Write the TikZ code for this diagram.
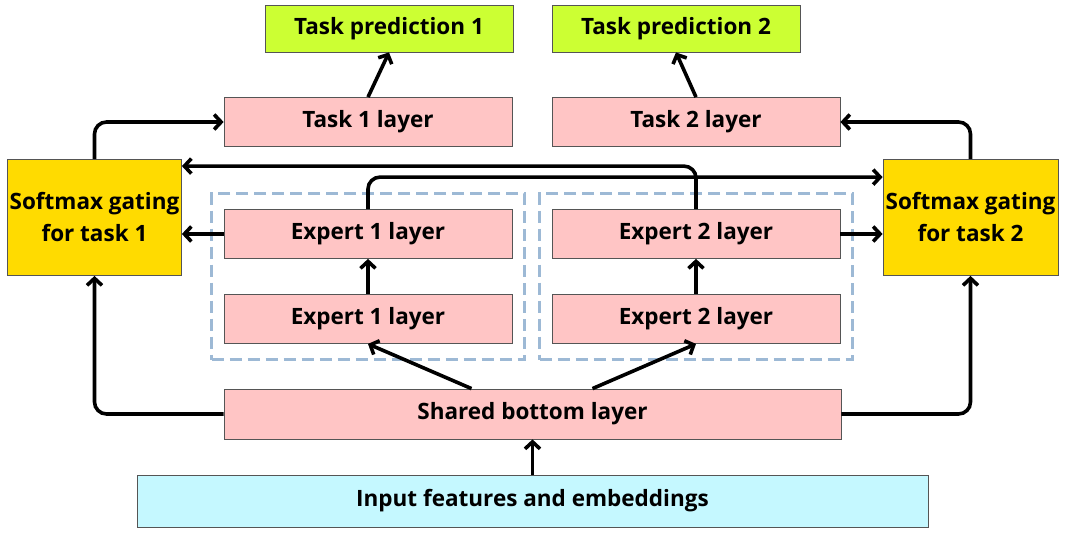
\documentclass[tikz,border=0pt]{standalone}
\usepackage{fontspec}
\setmainfont{Open Sans}
\usetikzlibrary{arrows.meta,positioning,fit}

\definecolor{layerpink}{HTML}{FFC5C5}
\definecolor{predgreen}{HTML}{CCFF33}
\definecolor{gateyellow}{HTML}{FFDB00}
\definecolor{inputcyan}{HTML}{C5F8FF}
\definecolor{groupblue}{HTML}{9DB9D5}
\definecolor{edgegray}{HTML}{555555}

\begin{document}
\begin{tikzpicture}[
  x=1pt, y=-1pt,
  every node/.style={font=\fontsize{22.5}{32}\selectfont\bfseries},
  box/.style={rectangle, draw=edgegray, line width=0.8pt, align=center, inner sep=0pt},
  layer/.style={box, fill=layerpink, minimum width=288pt, minimum height=49pt},
  pred/.style={box, fill=predgreen, minimum width=248pt, minimum height=47pt},
  gate/.style={box, fill=gateyellow, minimum width=174pt, minimum height=116pt},
  inbox/.style={box, fill=inputcyan, minimum width=791pt, minimum height=52pt},
  group/.style={draw=groupblue, line width=3pt, dash pattern=on 12pt off 6pt, inner xsep=12pt, inner ysep=16pt},
  arrow/.style={-{Straight Barb[length=7pt,width=15pt]}, line width=3.6pt, rounded corners=12pt}
]
\useasboundingbox (0,0) rectangle (1069,535);

\node[pred] (pred1) at (389,28.5) {Task prediction 1};
\node[pred] (pred2) at (676,28.5) {Task prediction 2};

\node[layer] (task1) at (368,122) {Task 1 layer};
\node[layer] (task2) at (696,122) {Task 2 layer};

\node[gate] (gate1) at (94.5,217.5) {Softmax gating\\for task 1};
\node[gate, minimum width=175pt] (gate2) at (970.5,217.5) {Softmax gating\\for task 2};

\node[layer] (exp1top) at (368,234) {Expert 1 layer};
\node[layer] (exp1bot) at (368,319) {Expert 1 layer};
\node[layer] (exp2top) at (696,234) {Expert 2 layer};
\node[layer] (exp2bot) at (696,319) {Expert 2 layer};

\node[group, fit=(exp1top)(exp1bot)] (grp1) {};
\node[group, fit=(exp2top)(exp2bot)] (grp2) {};

\node[layer, minimum width=617pt, minimum height=50pt] (shared) at (532.5,414) {Shared bottom layer};
\node[inbox] (input) at (532.5,501) {Input features and embeddings};

% Arrows
\draw[arrow] (input) -- (shared);
\draw[arrow] ([xshift=-61pt]shared.north) -- (exp1bot.south);
\draw[arrow] ([xshift=60pt]shared.north) -- (exp2bot.south);
\draw[arrow] (exp1bot) -- (exp1top);
\draw[arrow] (exp2bot) -- (exp2top);

\draw[arrow] (exp1top.west) -- (exp1top.west -| gate1.east);
\draw[arrow] (exp2top.east) -- (exp2top.east -| gate2.west);

% crossing paths to the other gate
\draw[arrow] (exp1top.north) |- ([yshift=-18pt]gate2.north west);
\draw[arrow] (exp2top.north) |- ([yshift=-7pt]gate1.north east);

\draw[arrow] (shared.west) -| (gate1.south);
\draw[arrow] (shared.east) -| (gate2.south);

\draw[arrow] (gate1.north) |- (task1.west);
\draw[arrow] (gate2.north) |- (task2.east);

\draw[arrow] (task1.north) -- (pred1.south);
\draw[arrow] (task2.north) -- (pred2.south);

\end{tikzpicture}
\end{document}
